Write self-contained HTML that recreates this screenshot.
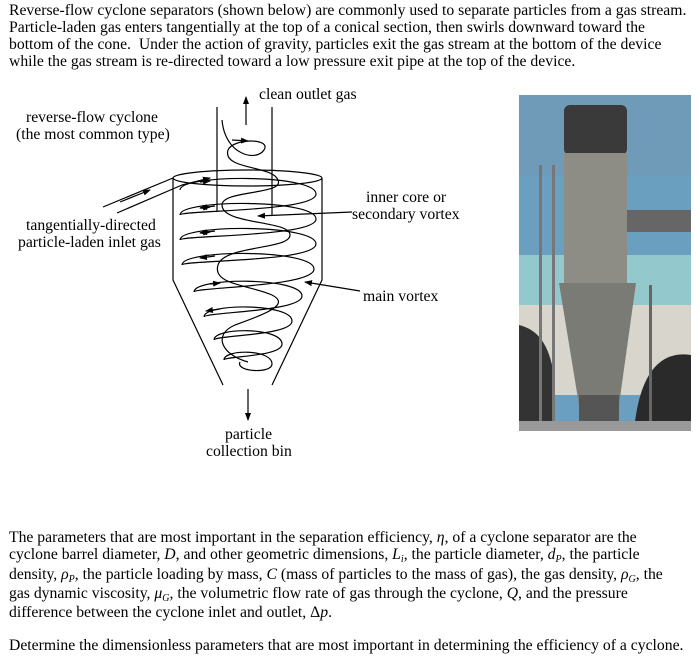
<!DOCTYPE html>
<html><head><style>
body{margin:0;width:700px;height:662px;background:#fff;font-family:"Liberation Serif",serif;font-size:15.7px;color:#000;position:relative;overflow:hidden}
.t{position:absolute;left:9px;line-height:17px;white-space:nowrap}
.l{position:absolute;white-space:nowrap;line-height:17px}
sub{font-size:10px;line-height:0;vertical-align:-3px}
</style></head><body>
<div class="t" style="top:2px">Reverse-flow cyclone separators (shown below) are commonly used to separate particles from a gas stream.<br>Particle-laden gas enters tangentially at the top of a conical section, then swirls downward toward the<br>bottom of the cone.&nbsp; Under the action of gravity, particles exit the gas stream at the bottom of the device<br>while the gas stream is re-directed toward a low pressure exit pipe at the top of the device.</div>
<div class="l" style="left:259px;top:86px">clean outlet gas</div>
<div class="l" style="left:26px;top:109px">reverse-flow cyclone</div>
<div class="l" style="left:16px;top:126px">(the most common type)</div>
<div class="l" style="left:366px;top:189px">inner core or</div>
<div class="l" style="left:352px;top:206px">secondary vortex</div>
<div class="l" style="left:26px;top:217px">tangentially-directed</div>
<div class="l" style="left:18px;top:234px">particle-laden inlet gas</div>
<div class="l" style="left:363px;top:288px">main vortex</div>
<div class="l" style="left:225px;top:426px">particle</div>
<div class="l" style="left:206px;top:443px">collection bin</div>
<svg width="700" height="662" style="position:absolute;left:0;top:0" fill="none" stroke="#000" stroke-width="1.2">
<defs><marker id="a" markerWidth="8" markerHeight="8" refX="7" refY="4" orient="auto" markerUnits="userSpaceOnUse"><path d="M0,1 L8,4 L0,7z" fill="#000" stroke="none"/></marker></defs>
<line x1="217" y1="107" x2="217" y2="212"/><line x1="272" y1="107" x2="272" y2="215"/>
<ellipse cx="247.5" cy="178" rx="74.5" ry="8"/>
<path d="M173 178 V280 L223 385 M322 178 V280 L272 385"/>
<line x1="246" y1="125" x2="246" y2="97" marker-end="url(#a)"/>
<line x1="248" y1="389" x2="248" y2="420" marker-end="url(#a)"/>
<line x1="103" y1="207" x2="173" y2="178"/><line x1="117" y1="213" x2="182" y2="185"/>
<line x1="120" y1="202" x2="150" y2="190" marker-end="url(#a)"/>
<path d="M182 185 L210 178" marker-end="url(#a)"/>
<path d="M180 190 C180 174,316 174,316 194 C316 212,180 210,180 215 C180 199,316 199,316 219 C316 237,180 235,180 240 C180 224,316 224,316 244 C316 262,182 260,182 265 C182 249,314 249,314 269 C314 287,194 287,194 292 C194 277,302 277,302 296 C302 312,204 312,204 317 C204 303,292 303,292 321 C292 336,214 335,214 340 C214 327,282 327,282 344 C282 357,224 356,224 360 C224 349,272 349,272 364 C272 374,235 372,240 362"/>
<path d="M248 362 C222 355,212 335,235 325 C262 315,292 305,272 295 C250 285,212 285,218 265 C224 245,290 250,290 235 C290 220,222 225,222 205 C222 190,285 195,278 180 C272 165,222 170,228 150 C233 138,272 138,264 150 C256 162,225 155,222 120"/>
<path d="M232 140 L248 141" marker-end="url(#a)"/>
<path d="M200 182 L210 181" marker-end="url(#a)"/><path d="M215 206 L200 208" marker-end="url(#a)"/>
<path d="M200 208 L210 207" marker-end="url(#a)"/><path d="M215 231 L200 233" marker-end="url(#a)"/>
<path d="M200 233 L210 232" marker-end="url(#a)"/><path d="M215 256 L200 258" marker-end="url(#a)"/>
<path d="M210 284 L220 283" marker-end="url(#a)"/><path d="M220 309 L206 311" marker-end="url(#a)"/>
<line x1="352" y1="212" x2="258" y2="216" marker-end="url(#a)"/>
<line x1="360" y1="291" x2="305" y2="282" marker-end="url(#a)"/>
</svg>
<svg width="172" height="336" style="position:absolute;left:519px;top:95px">
<rect width="172" height="336" fill="#6a9fc0"/>
<rect y="0" width="172" height="80" fill="#6f9bb8"/>
<rect y="160" width="172" height="70" fill="#93c8cc"/>
<rect y="210" width="172" height="90" fill="#d8d6cc"/>
<path d="M0 230 C20 235,30 250,35 280 V336 H0z" fill="#333"/>
<path d="M172 260 C140 255,120 280,115 336 H172z" fill="#2a2a2a"/>
<rect x="45" y="10" width="63" height="50" rx="6" fill="#3a3a3a"/>
<rect x="45" y="58" width="63" height="130" fill="#8d8d86"/>
<rect x="108" y="115" width="64" height="22" fill="#666"/>
<path d="M40 188 H117 L100 310 H60z" fill="#7b7b76"/>
<rect x="60" y="300" width="40" height="30" fill="#555"/>
<rect x="20" y="70" width="3" height="260" fill="#777"/><rect x="33" y="70" width="3" height="260" fill="#777"/>
<rect x="130" y="190" width="3" height="140" fill="#666"/>
<rect y="326" width="172" height="10" fill="#999"/>
</svg>
<div class="t" style="top:529px">The parameters that are most important in the separation efficiency, <i>η</i>, of a cyclone separator are the</div>
<div class="t" style="top:546px">cyclone barrel diameter, <i>D</i>, and other geometric dimensions, <i>L<sub>i</sub></i>, the particle diameter, <i>d<sub>P</sub></i>, the particle</div>
<div class="t" style="top:566px">density, <i>ρ<sub>P</sub></i>, the particle loading by mass, <i>C</i> (mass of particles to the mass of gas), the gas density, <i>ρ<sub>G</sub></i>, the</div>
<div class="t" style="top:585px">gas dynamic viscosity, <i>μ<sub>G</sub></i>, the volumetric flow rate of gas through the cyclone, <i>Q</i>, and the pressure</div>
<div class="t" style="top:604px">difference between the cyclone inlet and outlet, Δ<i>p</i>.</div>
<div class="t" style="top:637px">Determine the dimensionless parameters that are most important in determining the efficiency of a cyclone.</div>
</body></html>
